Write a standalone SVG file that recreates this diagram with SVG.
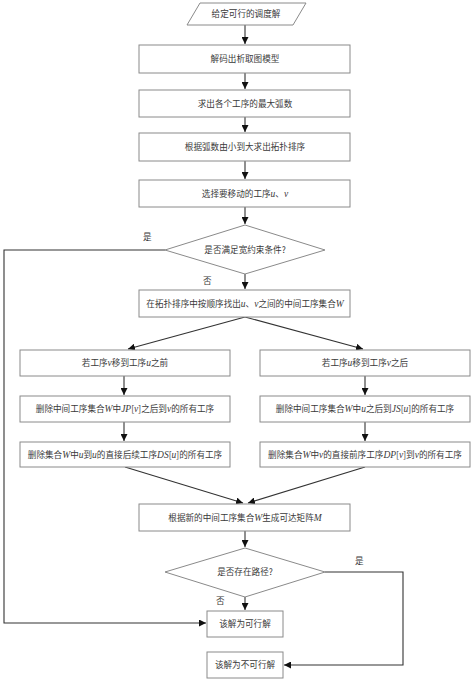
<svg xmlns="http://www.w3.org/2000/svg" width="474" height="682" viewBox="0 0 474 682">
<style>
.n{fill:#fff;stroke:#8a8a8a;stroke-width:1}
.t{font-family:"Noto Sans CJK SC","Noto Sans",sans-serif;font-size:8.6px;fill:#3a3a3a;text-anchor:middle}
.i{font-family:"Liberation Serif",serif;font-style:italic;font-size:9.5px}
.c{fill:none;stroke:#333;stroke-width:1.1}
.lb{font-family:"Noto Sans CJK SC",sans-serif;font-size:8.6px;fill:#3a3a3a}
</style>
<defs>
<marker id="a" viewBox="0 0 10 10" refX="10" refY="5" markerWidth="7" markerHeight="7" orient="auto" markerUnits="userSpaceOnUse">
<path d="M0,0 L10,5 L0,10 z" fill="#111"/>
</marker>
</defs>
<rect width="474" height="682" fill="#fff"/>
<g id="connectors">
<line class="c" x1="245" y1="25" x2="245" y2="44" marker-end="url(#a)"/>
<line class="c" x1="245" y1="73" x2="245" y2="89" marker-end="url(#a)"/>
<line class="c" x1="245" y1="117" x2="245" y2="132" marker-end="url(#a)"/>
<line class="c" x1="245" y1="161" x2="245" y2="179" marker-end="url(#a)"/>
<line class="c" x1="245" y1="207" x2="245" y2="224" marker-end="url(#a)"/>
<line class="c" x1="245" y1="274" x2="245" y2="289" marker-end="url(#a)"/>
<polyline class="c" points="165,250 4,250 4,623 206,623" marker-end="url(#a)"/>
<line class="c" x1="245" y1="317" x2="128" y2="349" marker-end="url(#a)"/>
<line class="c" x1="245" y1="317" x2="363" y2="349" marker-end="url(#a)"/>
<line class="c" x1="124" y1="376" x2="124" y2="395" marker-end="url(#a)"/>
<line class="c" x1="124" y1="422" x2="124" y2="441" marker-end="url(#a)"/>
<line class="c" x1="365" y1="376" x2="365" y2="395" marker-end="url(#a)"/>
<line class="c" x1="365" y1="422" x2="365" y2="441" marker-end="url(#a)"/>
<line class="c" x1="125" y1="467" x2="243" y2="503" marker-end="url(#a)"/>
<line class="c" x1="365" y1="467" x2="248" y2="503" marker-end="url(#a)"/>
<line class="c" x1="245" y1="531" x2="245" y2="547" marker-end="url(#a)"/>
<line class="c" x1="245" y1="597" x2="245" y2="610" marker-end="url(#a)"/>
<polyline class="c" points="325,572 403,572 403,665 284,665" marker-end="url(#a)"/>
<text class="lb" x="143" y="240">是</text>
<text class="lb" x="203" y="284">否</text>
<text class="lb" x="355" y="564">是</text>
<text class="lb" x="216" y="604">否</text>
</g>
<g id="start">
<polygon class="n" points="200,3 306,3 293,25 187,25"/>
<text class="t" x="246" y="17">给定可行的调度解</text>
</g>
<g id="decode">
<rect class="n" x="139" y="45" width="211" height="28"/>
<text class="t" x="245" y="62">解码出析取图模型</text>
</g>
<g id="maxarc">
<rect class="n" x="139" y="90" width="211" height="27"/>
<text class="t" x="245" y="107">求出各个工序的最大弧数</text>
</g>
<g id="topo">
<rect class="n" x="139" y="133" width="211" height="28"/>
<text class="t" x="245" y="150">根据弧数由小到大求出拓扑排序</text>
</g>
<g id="select">
<rect class="n" x="139" y="180" width="211" height="27"/>
<text class="t" x="245" y="197">选择要移动的工序<tspan class="i">u</tspan>、<tspan class="i">v</tspan></text>
</g>
<g id="cond1">
<polygon class="n" points="245,225 325,250 245,274 165,250"/>
<text class="t" x="245" y="253">是否满足宽约束条件?</text>
</g>
<g id="findW">
<rect class="n" x="139" y="290" width="211" height="27"/>
<text class="t" x="245" y="307">在拓扑排序中按顺序找出<tspan class="i">u</tspan>、<tspan class="i">v</tspan>之间的中间工序集合<tspan class="i">W</tspan></text>
</g>
<g id="left1">
<rect class="n" x="20" y="350" width="210" height="26"/>
<text class="t" x="125" y="366">若工序<tspan class="i">v</tspan>移到工序<tspan class="i">u</tspan>之前</text>
</g>
<g id="left2">
<rect class="n" x="20" y="396" width="210" height="26"/>
<text class="t" x="125" y="412">删除中间工序集合<tspan class="i">W</tspan>中<tspan class="i">JP</tspan>[<tspan class="i">v</tspan>]之后到<tspan class="i">v</tspan>的所有工序</text>
</g>
<g id="left3">
<rect class="n" x="20" y="442" width="210" height="25"/>
<text class="t" x="125" y="458">删除集合<tspan class="i">W</tspan>中<tspan class="i">u</tspan>到<tspan class="i">u</tspan>的直接后续工序<tspan class="i">DS</tspan>[<tspan class="i">u</tspan>]的所有工序</text>
</g>
<g id="right1">
<rect class="n" x="260" y="350" width="210" height="26"/>
<text class="t" x="365" y="366">若工序<tspan class="i">u</tspan>移到工序<tspan class="i">v</tspan>之后</text>
</g>
<g id="right2">
<rect class="n" x="260" y="396" width="210" height="26"/>
<text class="t" x="365" y="412">删除中间工序集合<tspan class="i">W</tspan>中<tspan class="i">u</tspan>之后到<tspan class="i">JS</tspan>[<tspan class="i">u</tspan>]的所有工序</text>
</g>
<g id="right3">
<rect class="n" x="260" y="442" width="210" height="25"/>
<text class="t" x="365" y="458">删除集合<tspan class="i">W</tspan>中<tspan class="i">v</tspan>的直接前序工序<tspan class="i">DP</tspan>[<tspan class="i">v</tspan>]到<tspan class="i">v</tspan>的所有工序</text>
</g>
<g id="matrix">
<rect class="n" x="139" y="504" width="211" height="27"/>
<text class="t" x="245" y="521">根据新的中间工序集合<tspan class="i">W</tspan>生成可达矩阵<tspan class="i">M</tspan></text>
</g>
<g id="cond2">
<polygon class="n" points="245,548 325,572 245,597 165,572"/>
<text class="t" x="245" y="575">是否存在路径?</text>
</g>
<g id="feasible">
<rect class="n" x="207" y="611" width="76" height="26"/>
<text class="t" x="245" y="627">该解为可行解</text>
</g>
<g id="infeasible">
<rect class="n" x="207" y="652" width="76" height="26"/>
<text class="t" x="245" y="668">该解为不可行解</text>
</g>
</svg>
